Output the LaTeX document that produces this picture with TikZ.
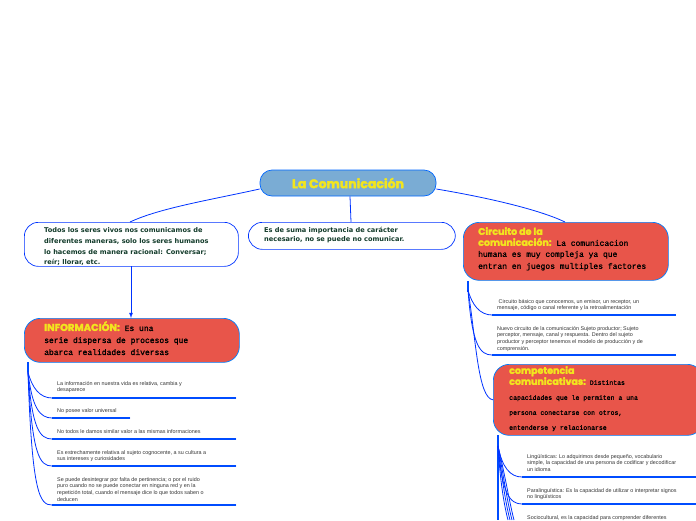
\documentclass[tikz,border=0pt]{standalone}
\usepackage{fontspec}
\setmainfont{Liberation Sans}
\newfontfamily\titlef[FakeBold=2.5]{Poppins Bold}
\newfontfamily\monof[FakeBold=1.2]{Liberation Mono}
\newfontfamily\boldf{DejaVu Sans}
\begin{document}
\begin{tikzpicture}[x=1pt,y=-1pt,
  con/.style={draw=blue!80!cyan,line width=0.8pt},
  und/.style={draw=blue!70!cyan,line width=1.3pt},
  redbox/.style={draw=blue!50!cyan,fill=red!70!orange!85!black!95,rounded corners=16pt,line width=0.7pt},
  whitebox/.style={draw=blue!80!cyan,fill=white,rounded corners=14pt,line width=0.7pt},
  small/.style={anchor=north west,align=left,font=\fontsize{5.4}{6.8}\selectfont,text=black!80,inner sep=0pt},
]
\definecolor{rb}{HTML}{E8554A}
\definecolor{dg}{HTML}{123B2A}
\definecolor{yl}{HTML}{F2E51E}
\useasboundingbox (0,0) rectangle (696,520);
% root
\node[draw=blue!60!cyan,fill={rgb,255:red,122;green,172;blue,212},rounded corners=12pt,minimum width=176pt,minimum height=26pt,line width=0.7pt,inner sep=0pt] (root) at (348,183) {\titlef\fontsize{12.5}{12.5}\selectfont\color{yl}La Comunicación};
% level 1 boxes
\node[whitebox,minimum width=214pt,minimum height=44pt,anchor=north west] (A) at (24,222) {};
\node[anchor=north west,inner sep=0pt,align=left,text=dg,font=\boldf\bfseries\fontsize{6.6}{10.9}\selectfont] (At) at (44,227) {Todos los seres vivos nos comunicamos de\\diferentes maneras, solo los seres humanos\\lo hacemos de manera racional: Conversar;\\reír; llorar, etc.};
\node[whitebox,minimum width=207pt,minimum height=27pt,anchor=north west] (B) at (248,222) {};
\node[anchor=north west,inner sep=0pt,align=left,text=dg,font=\boldf\bfseries\fontsize{6.6}{9.5}\selectfont] (Bt) at (264,227) {Es de suma importancia de carácter\\necesario,  no se puede no comunicar.};
\node[redbox,fill=rb,minimum width=205pt,minimum height=58pt,anchor=north west] (C) at (463,222) {};
\node[anchor=north west,inner sep=0pt,align=left] (Ct) at (478,227) {{\titlef\fontsize{9.5}{11}\selectfont\color{yl}Circuito de la}\\[-1pt]{\titlef\fontsize{9.5}{11}\selectfont\color{yl}comunicación:}{\monof\fontsize{8}{12}\selectfont\ La comunicacion}\\[-1pt]{\monof\fontsize{8}{12}\selectfont humana es muy compleja ya que}\\{\monof\fontsize{8}{12}\selectfont entran en juegos multiples factores}};
\draw[con] (root.west) ++(0,6) .. controls (210,200) and (160,208) .. (A.north -| 130,222);
\draw[con] (root.south) ++(2,0) -- (351,222);
\draw[con] (root.east) ++(0,6) .. controls (490,198) and (540,210) .. (565,222);
% info
\node[redbox,fill=rb,minimum width=215pt,minimum height=44pt,anchor=north west] (I) at (24,318) {};
\node[anchor=north west,inner sep=0pt,align=left] (It) at (44,321) {{\titlef\fontsize{10}{12}\selectfont\color{yl}INFORMACIÓN:}{\monof\fontsize{8}{13}\selectfont\ Es una}\\{\monof\fontsize{8}{13}\selectfont serie dispersa de procesos que}\\{\monof\fontsize{8}{13}\selectfont abarca realidades diversas}};
\draw[con,-latex] (131,266) -- (I.north -| 131,318);
% info children
\coordinate (is) at (28,362);
\draw[und] (is) -- (28,372);
\foreach \y/\e in {398/236,418/130,439/236,466/236,505/236}{
  \draw[con] (28,372) .. controls (32,\y-10) and (40,\y) .. (52,\y) -- (\e,\y);
  \draw[und] (52,\y) -- (\e,\y);
}
\node[small] (i1) at (57,381) {La información en nuestra vida es relativa, cambia y\\desaparece};
\node[small] (i2) at (57,408) {No posee valor universal};
\node[small] (i3) at (57,429) {No todos le damos similar valor a las mismas informaciones};
\node[small] (i4) at (57,450) {Es estrechamente relativa al sujeto cognocente, a su cultura a\\sus intereses y curiosidades};
\node[small] (i5) at (57,477) {Se puede desintegrar por falta de pertinencia; o por el ruido\\puro cuando no se puede conectar en ninguna red y en la\\repetición total, cuando el mensaje dice lo que todos saben o\\deducen};
% circuito children
\draw[und] (468,281) -- (468,292);
\foreach \y in {315,355}{
  \draw[con] (468,290) .. controls (472,\y-10) and (480,\y) .. (492,\y);
  \draw[und] (492,\y) -- (676,\y);
}
\node[small] (c1) at (497,299) {\ Circuito básico que conocemos, un emisor, un receptor, un\\mensaje, código  o canal referente y la retroalimentación};
\node[small] (c2) at (497,326) {Nuevo circuito de la comunicación Sujeto productor; Sujeto\\perceptor, mensaje, canal y respuesta. Dentro del sujeto\\productor y perceptor tenemos el modelo de producción y de\\comprensión.};
% competencia
\node[redbox,fill=rb,minimum width=210pt,minimum height=71pt,anchor=north west] (K) at (493,364) {};
\draw[con] (468,290) .. controls (476,340) and (478,398) .. (K.west);
\node[anchor=north west,inner sep=0pt,align=left] (Kt) at (509,366) {{\titlef\fontsize{9.5}{11}\selectfont\color{yl}competencia}\\[-1pt]{\titlef\fontsize{9.5}{11}\selectfont\color{yl}comunicativas:}{\monof\fontsize{6.5}{12}\selectfont\ Distintas}\\[3pt]{\monof\fontsize{6.5}{12}\selectfont capacidades que le permiten a una}\\[3pt]{\monof\fontsize{6.5}{12}\selectfont persona conectarse con otros,}\\[3pt]{\monof\fontsize{6.5}{12}\selectfont entenderse y relacionarse}};
\draw[und] (498,435) -- (498,520);
\foreach \y in {477,504}{
  \draw[con] (498,446) .. controls (502,\y-10) and (510,\y) .. (522,\y);
  \draw[und] (522,\y) -- (696,\y);
}
\foreach \xx in {500,502,504,506}{\draw[con] (498,446) .. controls (\xx,480) and (\xx+4,505) .. (\xx+8,520);}
\node[small] (k1) at (527,454) {Lingüísticas: Lo adquirimos desde pequeño, vocabulario\\simple, la capacidad de una persona de codificar y decodificar\\un idioma};
\node[small] (k2) at (527,488) {Paralinguística: Es la capacidad de utilizar o interpretar signos\\no lingüísticos};
\node[small] (k3) at (527,515) {Sociocultural, es la capacidad para comprender diferentes};
\end{tikzpicture}
\end{document}
